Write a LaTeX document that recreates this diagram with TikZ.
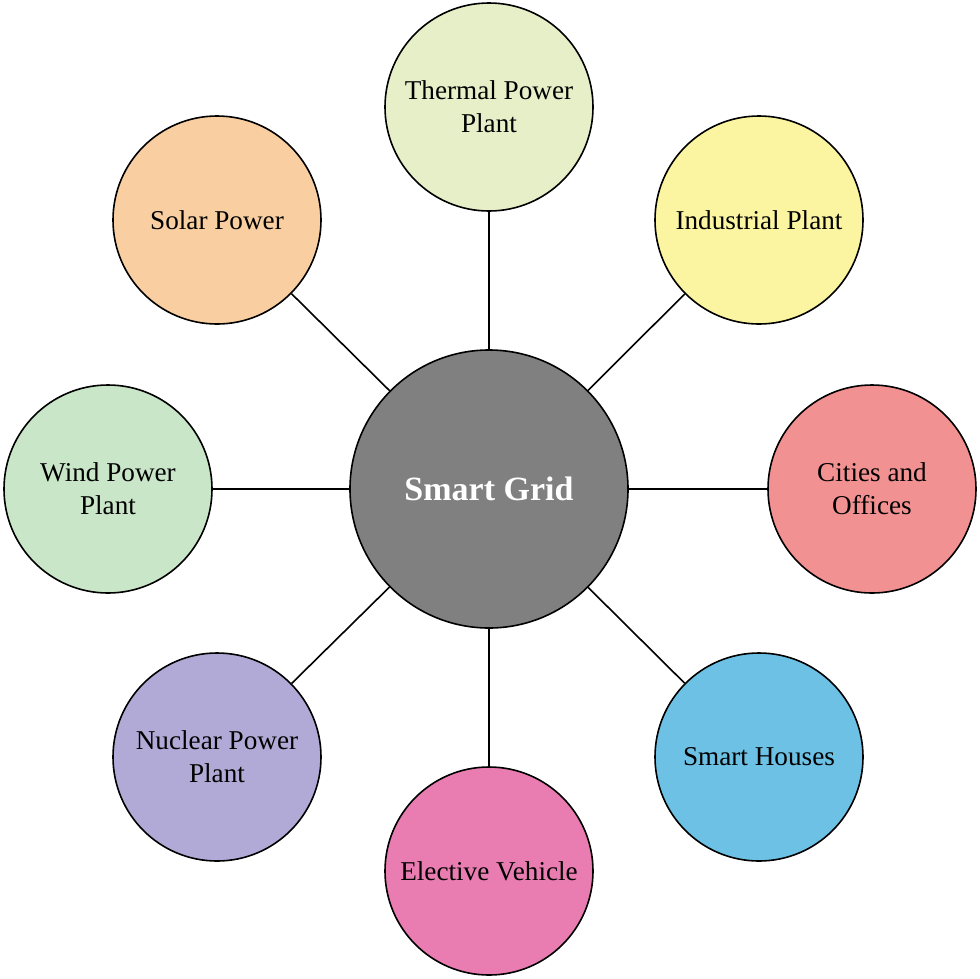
\documentclass[tikz,border=0pt]{standalone}
\usepackage{fontspec}
\setmainfont{Liberation Serif}
\definecolor{hubgray}{HTML}{808080}
\definecolor{thermal}{HTML}{E6EFC8}
\definecolor{industrial}{HTML}{FBF5A2}
\definecolor{cities}{HTML}{F29191}
\definecolor{houses}{HTML}{6CC1E5}
\definecolor{vehicle}{HTML}{E97DB1}
\definecolor{nuclear}{HTML}{B1AAD6}
\definecolor{wind}{HTML}{C9E6C9}
\definecolor{solar}{HTML}{F9CFA2}
\begin{document}
\begin{tikzpicture}[x=1pt,y=-1pt,
  sat/.style={circle,draw=black,line width=1.6pt,minimum size=208pt,inner sep=0pt,align=center,font=\fontsize{27.2}{33}\selectfont,text=black},
  hub/.style={circle,draw=black,line width=1.6pt,fill=hubgray,minimum size=278pt,inner sep=0pt,font=\bfseries\fontsize{34}{40}\selectfont,text=white},
  link/.style={draw=black,line width=1.6pt}]
\useasboundingbox (0,0) rectangle (980,978);
\node[hub] (c) at (489,489) {Smart Grid};
\node[sat,fill=thermal] (t) at (489,107) {Thermal Power\\Plant};
\node[sat,fill=industrial] (i) at (759,220) {Industrial Plant};
\node[sat,fill=cities] (o) at (872,489) {Cities and\\Offices};
\node[sat,fill=houses] (h) at (759,757) {Smart Houses};
\node[sat,fill=vehicle] (v) at (489,871) {Elective Vehicle};
\node[sat,fill=nuclear] (n) at (217,757) {Nuclear Power\\Plant};
\node[sat,fill=wind] (w) at (108,489) {Wind Power\\Plant};
\node[sat,fill=solar] (s) at (217,220) {Solar Power};
\foreach \x in {t,i,o,h,v,n,w,s} \draw[link] (c) -- (\x);
\end{tikzpicture}
\end{document}
